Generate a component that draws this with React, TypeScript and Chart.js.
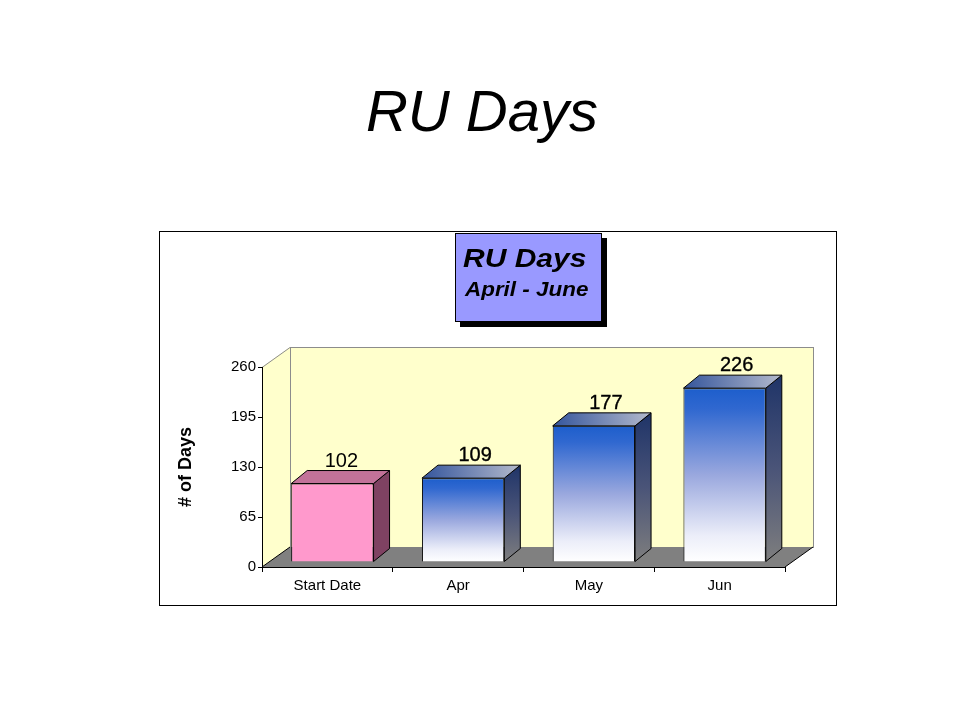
import { useEffect, useRef } from 'react';
import { Chart, registerables } from 'chart.js';

Chart.register(...registerables);

const categories = ['Start Date', 'Apr', 'May', 'Jun'];
const ruDays = [102, 109, 177, 226];
const yTicks = [0, 65, 130, 195, 260];

const FONT = "'Liberation Sans', Arial, Helvetica, sans-serif";

// depth of the walls / floor and of each bar
const WALL_DX = 28;
const WALL_DY = 20;
const BAR_DX = 16;
const BAR_DY = 13;
const SHIFT = 5; // bars sit a little behind the front edge

const poly = (ctx: CanvasRenderingContext2D, pts: number[][]) => {
    ctx.beginPath();
    pts.forEach(([x, y], i) => (i ? ctx.lineTo(x, y) : ctx.moveTo(x, y)));
    ctx.closePath();
};

const threeD = {
    id: 'threeD',
    beforeDraw(chart: any) {
        const { ctx, chartArea } = chart;
        const { left, right, top, bottom } = chartArea;
        ctx.save();
        ctx.lineWidth = 1;

        // left wall + back wall
        ctx.fillStyle = '#FFFFCC';
        poly(ctx, [[left, top], [left + WALL_DX, top - WALL_DY], [left + WALL_DX, bottom - WALL_DY], [left, bottom]]);
        ctx.fill();
        ctx.fillRect(left + WALL_DX, top - WALL_DY, right - left, bottom - top);
        ctx.strokeStyle = '#8C8C8C';
        ctx.strokeRect(left + WALL_DX + 0.5, top - WALL_DY + 0.5, right - left, bottom - top);
        ctx.beginPath();
        ctx.moveTo(left, top + 0.5);
        ctx.lineTo(left + WALL_DX, top - WALL_DY + 0.5);
        ctx.stroke();

        // floor
        ctx.fillStyle = '#808080';
        poly(ctx, [[left, bottom], [left + WALL_DX, bottom - WALL_DY], [right + WALL_DX, bottom - WALL_DY], [right, bottom]]);
        ctx.fill();
        ctx.strokeStyle = '#000';
        ctx.beginPath();
        ctx.moveTo(left, bottom);
        ctx.lineTo(left + WALL_DX, bottom - WALL_DY);
        ctx.moveTo(right, bottom);
        ctx.lineTo(right + WALL_DX, bottom - WALL_DY);
        ctx.stroke();
        ctx.restore();
    },
    beforeDatasetDraw(chart: any) {
        chart.ctx.save();
        chart.ctx.translate(SHIFT, -SHIFT);
    },
    afterDatasetDraw(chart: any, args: any) {
        const { ctx } = chart;
        args.meta.data.forEach((el: any, i: number) => {
            const { x, y, base, width } = el.getProps(['x', 'y', 'base', 'width'], true);
            const l = x - width / 2;
            const r = x + width / 2;
            ctx.lineWidth = 1;
            ctx.strokeStyle = '#000';

            // right side and top
            let side: any = '#7F4262';
            let topFace: any = '#C27299';
            if (i > 0) {
                side = ctx.createLinearGradient(0, y - BAR_DY, 0, base);
                side.addColorStop(0, '#1F3468');
                side.addColorStop(0.5, '#4A5478');
                side.addColorStop(1, '#7E7E7E');
                topFace = ctx.createLinearGradient(l, y, r + BAR_DX, y - BAR_DY);
                topFace.addColorStop(0, '#34559C');
                topFace.addColorStop(1, '#B4BACC');
            }
            ctx.fillStyle = side;
            poly(ctx, [[r, y], [r + BAR_DX, y - BAR_DY], [r + BAR_DX, base - BAR_DY], [r, base]]);
            ctx.fill();
            ctx.stroke();

            ctx.fillStyle = topFace;
            poly(ctx, [[l, y], [l + BAR_DX, y - BAR_DY], [r + BAR_DX, y - BAR_DY], [r, y]]);
            ctx.fill();
            ctx.stroke();
        });
        ctx.restore();
    },
    afterDatasetsDraw(chart: any) {
        const { ctx } = chart;
        const meta = chart.getDatasetMeta(0);
        ctx.save();
        ctx.font = `20px ${FONT}`;
        ctx.textAlign = 'center';
        ctx.textBaseline = 'alphabetic';
        ctx.fillStyle = '#000';
        ctx.strokeStyle = '#000';
        meta.data.forEach((el: any, i: number) => {
            const { x, y } = el.getProps(['x', 'y'], true);
            const tx = x + SHIFT + (i > 0 ? 12 : 9);
            const ty = y - SHIFT - BAR_DY - 4;
            ctx.fillText(String(ruDays[i]), tx, ty);
            if (i > 0) {
                ctx.lineWidth = 0.35;
                ctx.strokeText(String(ruDays[i]), tx, ty);
            }
        });
        ctx.restore();
    },
};

const RuDaysChart = () => {
    const canvasRef = useRef<HTMLCanvasElement>(null);
    const chartRef = useRef<any>(null);

    useEffect(() => {
        if (!canvasRef.current) return;
        if (chartRef.current) chartRef.current.destroy();

        Chart.defaults.font.family = FONT;

        chartRef.current = new Chart(canvasRef.current, {
            type: 'bar',
            data: {
                labels: categories,
                datasets: [{
                    label: 'RU Days',
                    data: ruDays,
                    clip: false,
                    borderColor: '#000',
                    borderWidth: 1,
                    barPercentage: 0.63,
                    categoryPercentage: 1,
                    backgroundColor: (c: any) => {
                        if (c.dataIndex === 0) return '#FF99CC';
                        const ys = c.chart.scales.y;
                        if (!ys) return '#2F67CF';
                        const top = ys.getPixelForValue(c.raw);
                        const base = ys.getPixelForValue(0);
                        if (!isFinite(top) || !isFinite(base) || top === base) return '#2F67CF';
                        const g = c.chart.ctx.createLinearGradient(0, top, 0, base);
                        g.addColorStop(0, '#1D5ECC');
                        g.addColorStop(0.12, '#3068D0');
                        g.addColorStop(0.5, '#9AA8DE');
                        g.addColorStop(0.85, '#ECEEF9');
                        g.addColorStop(1, '#FFFFFF');
                        return g;
                    },
                }]
            },
            options: {
                responsive: false,
                animation: false,
                layout: { padding: { left: 175, top: 367, right: 175, bottom: 123 } },
                plugins: {
                    legend: { display: false },
                    tooltip: { enabled: false },
                },
                scales: {
                    x: {
                        grid: { display: true, drawOnChartArea: false, tickLength: 5, color: '#000', offset: true },
                        border: { display: true, color: '#000', width: 1 },
                        ticks: { color: '#000', font: { size: 15 }, padding: 5 },
                        afterFit: (s: any) => { s.height = 30; },
                    },
                    y: {
                        min: 0,
                        max: 260,
                        afterBuildTicks: (s: any) => { s.ticks = yTicks.map(value => ({ value })); },
                        grid: { drawOnChartArea: false, tickLength: 4, color: '#000' },
                        border: { display: true, color: '#000', width: 1 },
                        ticks: { color: '#000', font: { size: 15 }, padding: 2 },
                        title: { display: true, text: '# of Days', color: '#000', font: { size: 18, weight: 'bold' }, padding: 0 },
                        afterFit: (s: any) => { s.width = 87; },
                    }
                }
            },
            plugins: [threeD]
        } as any);

        return () => { if (chartRef.current) chartRef.current.destroy(); chartRef.current = null; };
    }, []);

    return (
        <canvas ref={canvasRef} width={960} height={720}
            style={{ position: 'absolute', left: 0, top: 0, width: 960, height: 720 }} />
    );
};

export default function App() {
    return (
        <div style={{ position: 'absolute', left: 0, top: 0, width: 960, height: 720, background: '#fff', overflow: 'hidden', fontFamily: FONT }}>
            <div style={{ position: 'absolute', left: 2, top: 82, width: 960, textAlign: 'center', fontSize: 58, lineHeight: '58px', fontStyle: 'italic', color: '#000' }}>
                RU Days
            </div>
            <div style={{ position: 'absolute', left: 159, top: 231, width: 678, height: 375, border: '1px solid #000', boxSizing: 'border-box' }} />
            <RuDaysChart />
            <div style={{ position: 'absolute', left: 455, top: 233, width: 147, height: 89, background: '#9999FF', border: '1px solid #000', boxSizing: 'border-box', boxShadow: '5px 5px 0 #000' }} />
            <div style={{ position: 'absolute', left: 463, top: 246, fontSize: 25, lineHeight: '25px', fontWeight: 'bold', fontStyle: 'italic', whiteSpace: 'nowrap', transform: 'scaleX(1.2)', transformOrigin: 'left top' }}>
                RU Days
            </div>
            <div style={{ position: 'absolute', left: 465, top: 280, fontSize: 19.5, lineHeight: '19.5px', fontWeight: 'bold', fontStyle: 'italic', whiteSpace: 'nowrap', transform: 'scaleX(1.15)', transformOrigin: 'left top' }}>
                April - June
            </div>
        </div>
    );
}
